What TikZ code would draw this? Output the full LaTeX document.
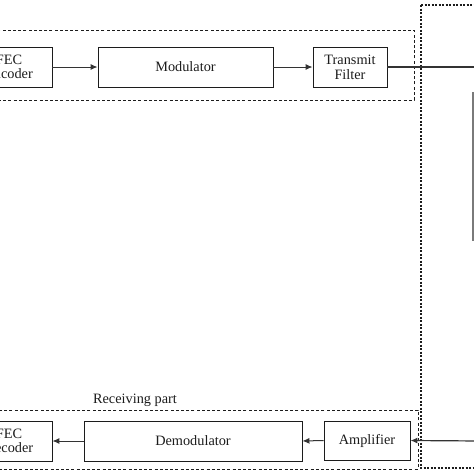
\documentclass[tikz,border=0pt]{standalone}
\usepackage{fontspec}
\setmainfont{Liberation Serif}
\usetikzlibrary{arrows.meta}
\definecolor{ink}{HTML}{1C1C1C}
\definecolor{wire}{HTML}{333333}
\definecolor{chgray}{HTML}{7A7A7A}
\begin{document}
\begin{tikzpicture}[x=1pt,y=-1pt,
  blk/.style={draw=ink, line width=0.9pt, text=ink, align=center, inner sep=0pt,
    font=\fontsize{14.3}{14}\selectfont},
  arr/.style={draw=wire, line width=1pt, -{Latex[length=7pt,width=6pt]}},
  wireline/.style={draw=wire, line width=1.1pt},
  grpbox/.style={draw=ink, line width=1pt, dash pattern=on 3pt off 2.2pt},
  outerbox/.style={draw=ink, line width=1.7pt, dash pattern=on 2pt off 1.5pt},
  lbl/.style={text=ink, font=\fontsize{14.3}{15}\selectfont, inner sep=0pt}]
\useasboundingbox (0,0) rectangle (474,474);
\clip (0,0) rectangle (474,474);
\fill[white] (0,0) rectangle (474,474);

% group boxes
\draw[grpbox] (-10,30) rectangle (414,100);
\draw[grpbox] (-10,410) rectangle (418,469);
\draw[outerbox] (421,5) -- (421,468) -- (490,468);
\draw[outerbox] (421,5) -- (490,5);
\node[lbl] (rxlabel) at (135,400) {Receiving part};

% transmitting chain
\node[blk, minimum width=86pt, minimum height=40pt] (enc) at (9,67) {FEC\\Encoder};
\node[blk, minimum width=175pt, minimum height=40pt] (mod) at (185.5,67) {Modulator};
\node[blk, minimum width=74pt, minimum height=40pt, font=\fontsize{14.3}{15}\selectfont] (tf) at (350,67) {Transmit\\Filter};

% channel box (partially visible)
\node[draw=chgray, line width=2pt, minimum width=40pt, minimum height=147pt, inner sep=0pt] (ch) at (493,166.5) {};

% receiving chain
\node[blk, minimum width=86pt, minimum height=40pt] (dec) at (9,441) {FEC\\Decoder};
\node[blk, minimum width=218pt, minimum height=40pt] (dem) at (193,441) {Demodulator};
\node[blk, minimum width=86pt, minimum height=39pt] (amp) at (367,440.5) {Amplifier};

\coordinate (txout) at (480,67);
\coordinate (rxin) at (480,441);

\draw[arr] (enc.east) -- (mod.west);
\draw[arr] (mod.east) -- (tf.west);
\draw[wireline] (tf.east) -- (txout);

\draw[arr, line width=1.2pt] (rxin) -- (amp.east);
\draw[arr] (amp.west) -- (dem.east);
\draw[arr] (dem.west) -- (dec.east);
\end{tikzpicture}
\end{document}
